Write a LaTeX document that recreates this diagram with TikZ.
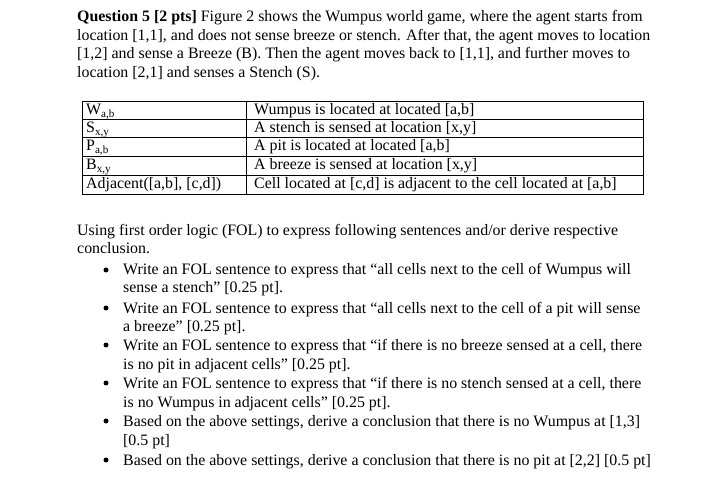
\documentclass[tikz,border=0pt]{standalone}
\usepackage{fontspec}
\setmainfont{Liberation Serif}
\begin{document}
\begin{tikzpicture}[x=1pt,y=-1pt,
  tx/.style={anchor=base west,inner sep=0pt,font=\fontsize{15.9}{17}\selectfont},
  bul/.style={circle,fill=black,inner sep=0pt,minimum size=5pt}]
\useasboundingbox (0,0) rectangle (720,494);
\node[tx] (l1) at (77,22) {\textbf{Question 5 [2 pts]} Figure 2 shows the Wumpus world game, where the agent starts from};
\node[tx] (l2) at (77,41) {location [1,1], and does not sense breeze or stench. After that, the agent moves to location};
\node[tx] (l3) at (77,59) {[1,2] and sense a Breeze (B). Then the agent moves back to [1,1], and further moves to};
\node[tx] (l4) at (77,78) {location [2,1] and senses a Stench (S).};
% table
\draw[line width=0.8pt] (82,101) rectangle (643,194);
\foreach \y in {119,137,156,175} \draw[line width=0.8pt] (82,\y) -- (643,\y);
\draw[line width=0.8pt] (246,101) -- (246,194);
\node[tx] (t1a) at (86,115) {W\textsubscript{a,b}};
\node[tx] (t2a) at (86,133) {S\textsubscript{x,y}};
\node[tx] (t3a) at (86,151) {P\textsubscript{a,b}};
\node[tx] (t4a) at (86,170) {B\textsubscript{x,y}};
\node[tx] (t5a) at (86,189) {Adjacent([a,b], [c,d])};
\node[tx] (t1b) at (254,115) {Wumpus is located at located [a,b]};
\node[tx] (t2b) at (254,133) {A stench is sensed at location [x,y]};
\node[tx] (t3b) at (254,151) {A pit is located at located [a,b]};
\node[tx] (t4b) at (254,170) {A breeze is sensed at location [x,y]};
\node[tx] (t5b) at (254,189) {Cell located at [c,d] is adjacent to the cell located at [a,b]};
\node[tx] (u1) at (77,236) {Using first order logic (FOL) to express following sentences and/or derive respective};
\node[tx] (u2) at (77,254) {conclusion.};
\foreach \n/\y in {1/270,2/308,3/345,4/383,5/421,6/460} \node[bul] (b\n) at (106,\y) {};
\node[tx] (a1) at (123,275) {Write an FOL sentence to express that “all cells next to the cell of Wumpus will};
\node[tx] (a2) at (123,293) {sense a stench” [0.25 pt].};
\node[tx] (c1) at (123,313) {Write an FOL sentence to express that “all cells next to the cell of a pit will sense};
\node[tx] (c2) at (123,331) {a breeze” [0.25 pt].};
\node[tx] (d1) at (123,350) {Write an FOL sentence to express that “if there is no breeze sensed at a cell, there};
\node[tx] (d2) at (123,369) {is no pit in adjacent cells” [0.25 pt].};
\node[tx] (e1) at (123,388) {Write an FOL sentence to express that “if there is no stench sensed at a cell, there};
\node[tx] (e2) at (123,407) {is no Wumpus in adjacent cells” [0.25 pt].};
\node[tx] (f1) at (123,426) {Based on the above settings, derive a conclusion that there is no Wumpus at [1,3]};
\node[tx] (f2) at (123,445) {[0.5 pt]};
\node[tx] (g1) at (123,465) {Based on the above settings, derive a conclusion that there is no pit at [2,2] [0.5 pt]};
\end{tikzpicture}
\end{document}
